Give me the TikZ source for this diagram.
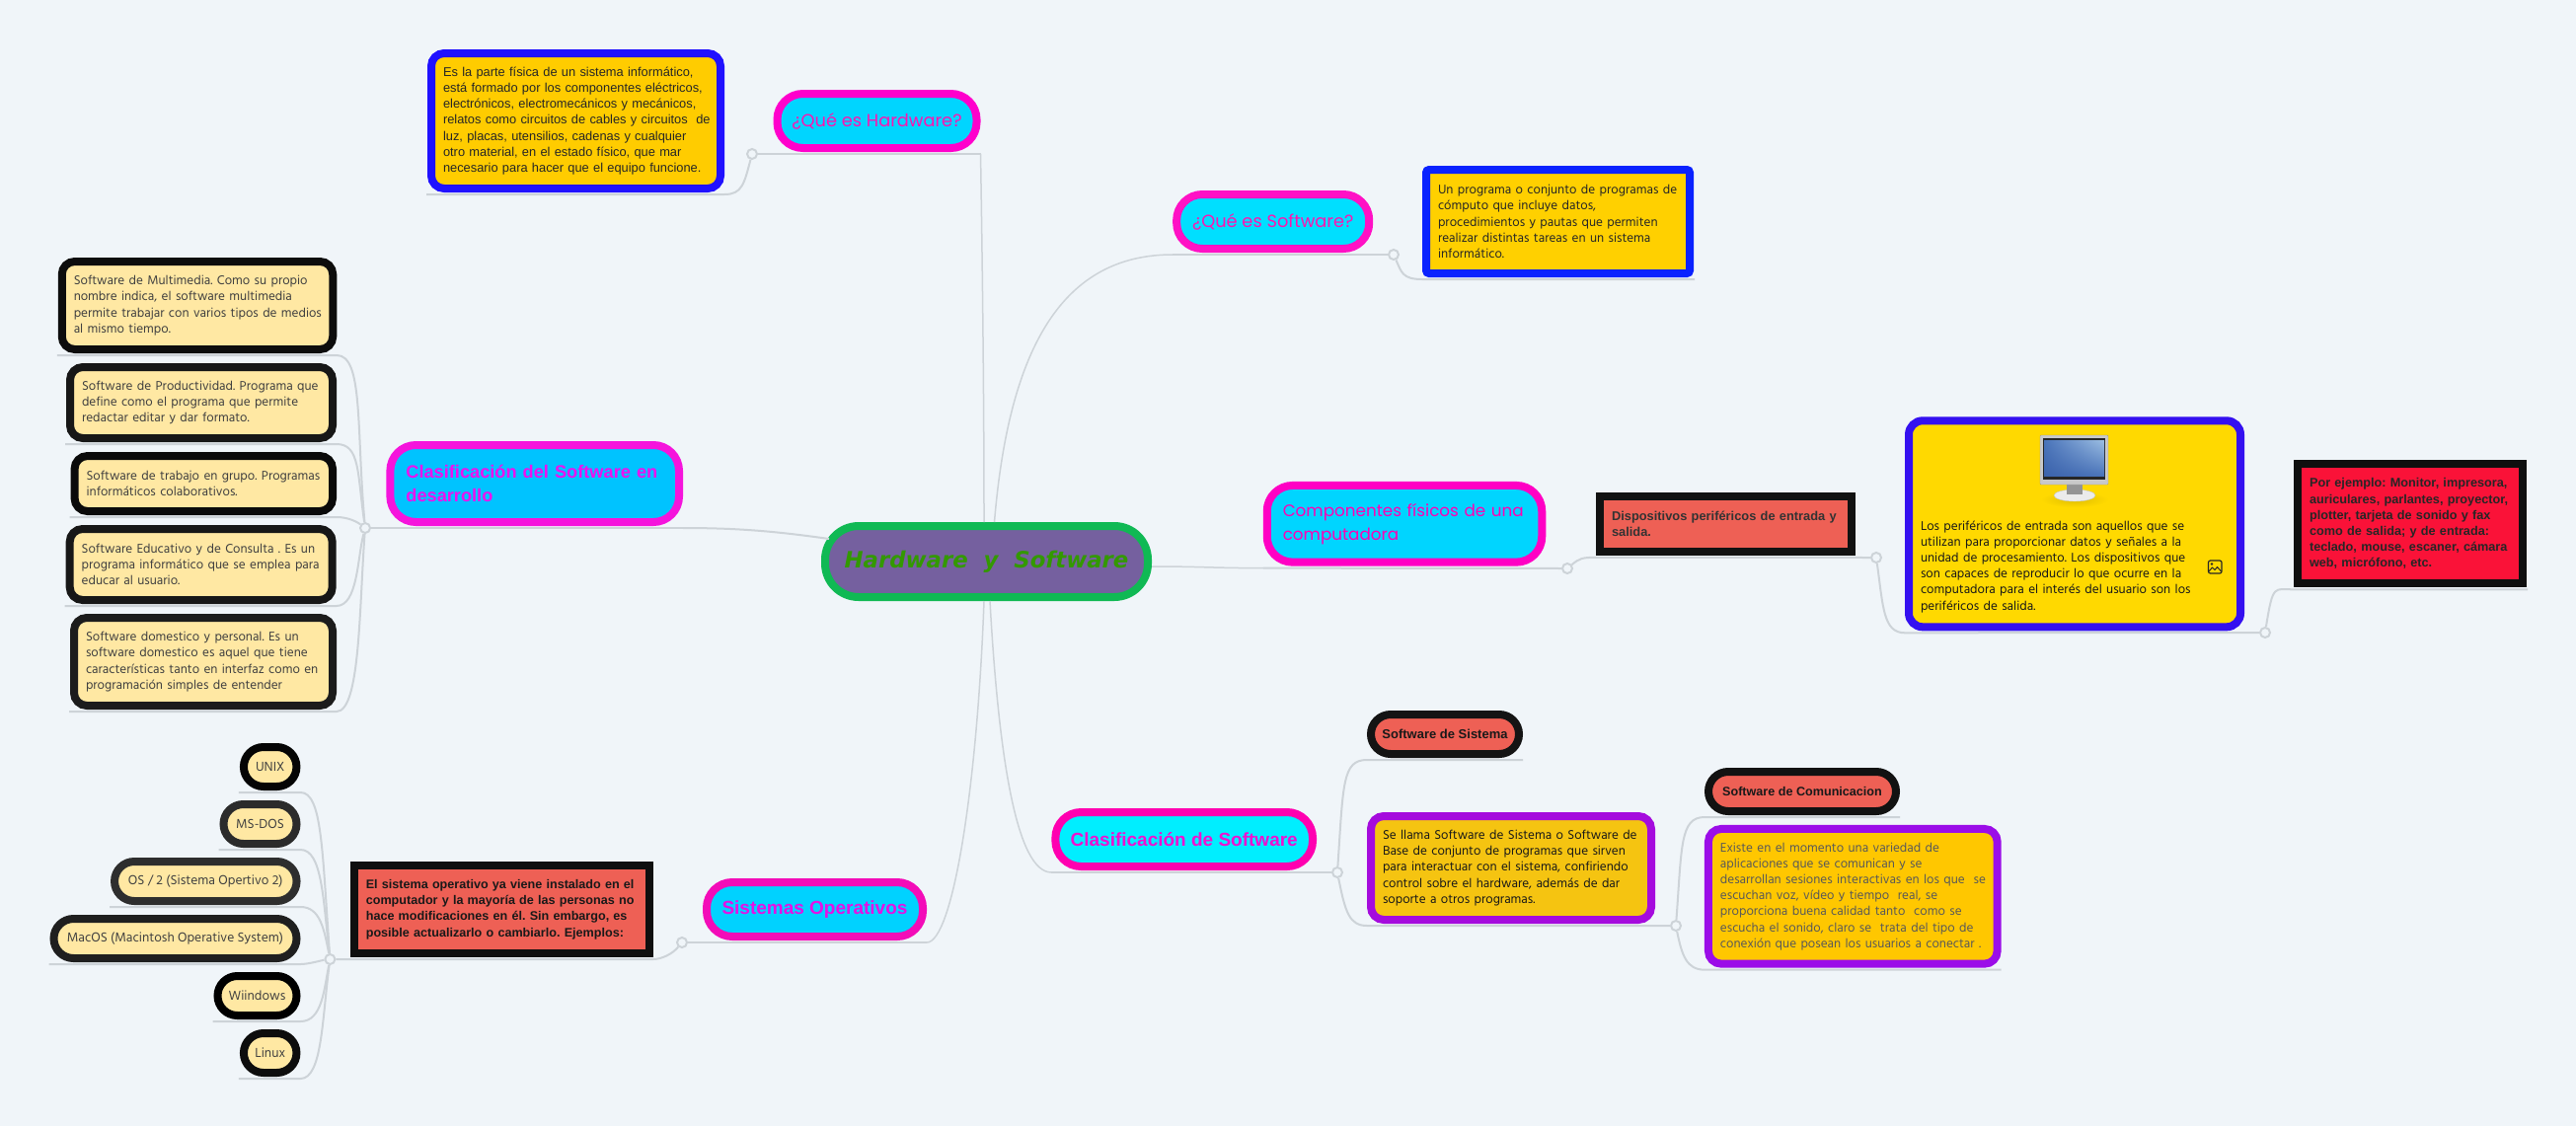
\documentclass[tikz,border=0pt]{standalone}
\usepackage{fontspec}
\usepackage{xcolor}
\usetikzlibrary{shadings}
\setmainfont{Liberation Sans}
\newfontfamily\hindfont{Hind Madurai}
\newfontfamily\roundfont{Poppins}
\newfontfamily\rootfont{DejaVu Sans}
\frenchspacing
\definecolor{pagebg}{HTML}{F0F5F9}
\definecolor{linecol}{HTML}{CDD3D8}
\definecolor{leaffill}{HTML}{FFE8A3}
\definecolor{redfill}{HTML}{EE6055}
\definecolor{rootedge}{HTML}{10B954}
\definecolor{rootfill}{HTML}{75609F}
\definecolor{roottext}{HTML}{339900}
\definecolor{hwedge}{HTML}{FF00CC}
\definecolor{hwfill}{HTML}{00D5FF}
\definecolor{hwtextcol}{HTML}{FF14B0}
\definecolor{hwbluebox}{HTML}{2011FF}
\definecolor{hwgold}{HTML}{FFCC00}
\definecolor{swedge}{HTML}{FF11C5}
\definecolor{swfill}{HTML}{00DFFF}
\definecolor{swbluebox}{HTML}{0A22FF}
\definecolor{swgold}{HTML}{FFD000}
\definecolor{comedge}{HTML}{FF00C4}
\definecolor{comtextcol}{HTML}{FF00B4}
\definecolor{periedge}{HTML}{3410F0}
\definecolor{perigold}{HTML}{FFD900}
\definecolor{crimson}{HTML}{FA1238}
\definecolor{clasedge}{HTML}{FF00B0}
\definecolor{clasfill}{HTML}{00EEFF}
\definecolor{clastextcol}{HTML}{F010D0}
\definecolor{selledge}{HTML}{A50BDD}
\definecolor{sellgold}{HTML}{F5C411}
\definecolor{existedge}{HTML}{9B0DE8}
\definecolor{existgold}{HTML}{FFC700}
\definecolor{sisedge}{HTML}{F30CB8}
\definecolor{sisfill}{HTML}{00D2FF}
\definecolor{sistextcol}{HTML}{E511E5}
\definecolor{desedge}{HTML}{F514DC}
\definecolor{desfill}{HTML}{00C3FF}
\definecolor{destextcol}{HTML}{EE11EE}
\definecolor{monshadow}{HTML}{E0BE00}
\definecolor{monlow}{HTML}{3C63AC}
\definecolor{monmid}{HTML}{4A74BA}
\definecolor{monhigh}{HTML}{9CBEE2}

\begin{document}
\begin{tikzpicture}[x=1pt, y=-1pt, >=stealth,
    rootlink/.style={draw=linecol, line width=1.5pt},
    branchlink/.style={draw=linecol, line width=2pt},
    hubdot/.style={circle, draw=linecol, fill=pagebg, line width=2pt, minimum size=10pt, inner sep=0pt},
    framed/.style={rectangle, line width=8pt, inner ysep=0pt, inner xsep=12pt, align=left},
    bodytext/.style={font=\fontsize{12.85}{16.2}\selectfont},
    hindtext/.style={font=\hindfont\fontsize{13.15}{16.2}\selectfont},
    boldtext/.style={font=\bfseries\fontsize{12.85}{16.2}\selectfont},
    topic/.style={rectangle, line width=8pt, rounded corners=26pt, inner sep=0pt},
    leaf/.style={rectangle, draw=#1, fill=leaffill, text=black!75, line width=8pt, rounded corners=20pt, inner sep=0pt, minimum height=40pt, font=\hindfont\fontsize{13.5}{16.2}\selectfont},
    note/.style={framed, hindtext, draw=#1, fill=leaffill, text=black!75, rounded corners=13pt}]
    \fill[pagebg] (0,0) rectangle (2610,1141);

    % centre
    \node[rectangle, draw=rootedge, fill=rootfill, text=roottext, line width=8pt, rounded corners=34pt, minimum width=327pt, minimum height=72pt, inner sep=0pt, font=\rootfont\bfseries\itshape\fontsize{22.8}{28}\selectfont] (root) at (999.5,569) {\raisebox{-2pt}{Hardware\ \ y\ \ Software}};

    % hardware
    \node[topic, draw=hwedge, fill=hwfill, text=hwtextcol, minimum width=202pt, minimum height=55pt, font=\roundfont\fontsize{17.8}{24}\selectfont] (hwtopic) at (888.5,122.5) {¿Qué es Hardware?};
    \node[framed, bodytext, draw=hwbluebox, fill=hwgold, text=black!85, rounded corners=13pt, node distance=305pt, left of=hwtopic, text width=269pt, minimum height=137pt] (hwtext) {Es la parte física de un sistema informático,\\está formado por los componentes eléctricos,\\electrónicos, electromecánicos y mecánicos,\\\mbox{relatos como circuitos de cables y circuitos\ \ de}\\luz, placas, utensilios, cadenas y cualquier\\otro material, en el estado físico, que mar\\necesario para hacer que el equipo funcione.};

    % software
    \node[topic, draw=swedge, fill=swfill, text=hwtextcol, minimum width=195pt, minimum height=55pt, font=\roundfont\fontsize{17.8}{24}\selectfont] (swtopic) at (1289.7,224.5) {¿Qué es Software?};
    \node[framed, hindtext, draw=swbluebox, fill=swgold, text=black!85, rounded corners=3pt, node distance=288.8pt, right of=swtopic, text width=243pt, minimum height=105pt] (swtext) {Un programa o conjunto de programas de\\cómputo que incluye datos,\\procedimientos y pautas que permiten\\realizar distintas tareas en un sistema\\informático.};

    % componentes
    \node[topic, draw=comedge, fill=hwfill, text=comtextcol, minimum height=77.7pt, text width=246.5pt, inner xsep=16pt, align=left, font=\roundfont\fontsize{16.8}{24}\selectfont] (compon) at (1423,530.8) {Componentes físicos de una\\computadora};
    \node[framed, boldtext, draw=black!93, fill=redfill, text=black!80, node distance=325.5pt, right of=compon, text width=231pt, minimum height=56pt] (dispos) {Dispositivos periféricos de entrada y\\salida.};
    \node[framed, hindtext, draw=periedge, fill=perigold, text=black!90, rounded corners=14pt, node distance=353.5pt, right of=dispos, text width=312pt, minimum height=209pt] (perifer) {\mbox{}\\[80pt]Los periféricos de entrada son aquellos que se\\utilizan para proporcionar datos y señales a la\\unidad de procesamiento. Los dispositivos que\\son capaces de reproducir lo que ocurre en la\\computadora para el interés del usuario son los\\periféricos de salida.};
    \node[framed, boldtext, draw=black!94, fill=crimson, text=black!85, node distance=340pt, right of=perifer, text width=204pt, minimum height=121pt, font=\bfseries\fontsize{12.7}{16.2}\selectfont] (ejemplo) {Por ejemplo: Monitor, impresora,\\auriculares, parlantes, proyector,\\plotter, tarjeta de sonido y fax\\como de salida; y de entrada:\\teclado, mouse, escaner, cámara\\web, micrófono, etc.};

    % monitor picture
    \shade[inner color=monshadow, outer color=perigold] (2102,506) ellipse (34 and 8);
    \fill[black!8, draw=black!22] (2102,502) ellipse (21 and 6);
    \fill[black!42] (2094,490) rectangle (2110,501);
    \fill[black!21, draw=black!40, rounded corners=1pt] (2067,441) rectangle (2136,491);
    \fill[black!85] (2070,444) rectangle (2133,485.5);
    \shade[lower left=monlow, upper left=monmid, lower right=monmid, upper right=monhigh] (2071,446) rectangle (2132,482);
    % picture mark
    \draw[black!85, line width=1.2pt, rounded corners=2pt] (2237.5,568) rectangle (2251,581);
    \fill[black!85] (2241,571.5) circle (1.3);
    \draw[black!85, line width=1pt, line join=round] (2238,579) -- (2241.5,575) -- (2244,577.5) -- (2246.5,574.5) -- (2250.5,579);

    % clasificacion
    \node[topic, draw=clasedge, fill=clasfill, text=clastextcol, minimum width=260.6pt, minimum height=55pt, font=\bfseries\fontsize{19}{24}\selectfont] (clasif) at (1199.7,850.5) {Clasificación de Software};
    \node[rectangle, draw=black!92, fill=redfill, text=black!90, line width=8pt, rounded corners=20pt, inner sep=0pt, minimum width=150pt, minimum height=40pt, font=\bfseries\fontsize{13}{16.2}\selectfont, node distance=264.3pt, right of=clasif, yshift=106.5pt] (softsis) {Software de Sistema};
    \node[framed, hindtext, draw=selledge, fill=sellgold, text=black!90, rounded corners=13pt, node distance=331.3pt, right of=clasif, yshift=-29pt, text width=260pt, minimum height=105pt] (sellama) {Se llama Software de Sistema o Software de\\Base de conjunto de programas que sirven\\para interactuar con el sistema, confiriendo\\control sobre el hardware, además de dar\\soporte a otros programas.};
    \node[rectangle, draw=black!93, fill=redfill, text=black!90, line width=8pt, rounded corners=20pt, inner sep=0pt, minimum width=190pt, minimum height=40pt, font=\bfseries\fontsize{12.6}{16.2}\selectfont, node distance=295pt, right of=sellama, yshift=77.5pt] (softcom) {Software de Comunicacion};
    \node[framed, hindtext, draw=existedge, fill=existgold, text=black!65, rounded corners=13pt, node distance=346.3pt, right of=sellama, yshift=-28.8pt, text width=268.7pt, minimum height=136.7pt] (exist) {Existe en el momento una variedad de\\aplicaciones que se comunican y se\\\mbox{desarrollan sesiones interactivas en los que\ \ se}\\escuchan voz, vídeo y tiempo\ \ real, se\\proporciona buena calidad tanto\ \ como se\\escucha el sonido, claro se\ \ trata del tipo de\\\mbox{conexión que posean los usuarios a conectar .}};

    % sistemas operativos
    \node[topic, draw=sisedge, fill=sisfill, text=sistextcol, minimum width=219pt, minimum height=55pt, font=\bfseries\fontsize{19}{24}\selectfont] (sistop) at (825.5,921.5) {Sistemas Operativos};
    \node[framed, boldtext, draw=black!94, fill=redfill, text=black!90, node distance=317.2pt, left of=sistop, text width=275pt, minimum height=89pt, font=\bfseries\fontsize{12.6}{16.2}\selectfont] (elsis) {\mbox{El sistema operativo ya viene instalado en el}\\\mbox{computador y la mayoría de las personas no}\\hace modificaciones en él. Sin embargo, es\\posible actualizarlo o cambiarlo. Ejemplos:};
    \node[leaf=black!88, minimum width=246pt, node distance=330.8pt, left of=elsis, yshift=-29.5pt] (macos) {MacOS (Macintosh Operative System)};
    \node[leaf=black!82, minimum width=184.5pt, node distance=58pt, above of=macos, xshift=30.8pt] (osdos) {OS / 2 (Sistema Opertivo 2)};
    \node[leaf=black!83, minimum width=74pt, node distance=58pt, above of=osdos, xshift=55.2pt] (msdos) {MS-DOS};
    \node[leaf=black!98, minimum width=53.5pt, node distance=58pt, above of=msdos, xshift=10.2pt] (unix) {UNIX};
    \node[leaf=black, minimum width=80pt, node distance=58pt, below of=macos, xshift=83pt] (wiindows) {Wiindows};
    \node[leaf=black!95, minimum width=53.5pt, node distance=58pt, below of=wiindows, xshift=13.2pt] (linux) {Linux};

    % software en desarrollo
    \node[topic, draw=desedge, fill=desfill, text=destextcol, minimum height=78pt, text width=260.6pt, inner xsep=16pt, align=left, font=\bfseries\fontsize{18.2}{24}\selectfont] (clasdes) at (541.7,490) {Clasificación del Software en\\desarrollo};
    \node[note=black!96, node distance=335.4pt, left of=clasdes, text width=237.4pt, minimum height=56pt] (trabajo) {Software de trabajo en grupo. Programas\\informáticos colaborativos.};
    \node[note=black!91, node distance=82pt, above of=trabajo, xshift=-2.3pt, text width=242pt, minimum height=72pt] (producto) {Software de Productividad. Programa que\\define como el programa que permite\\redactar editar y dar formato.};
    \node[note=black!95, node distance=98.5pt, above of=producto, xshift=-4pt, text width=250.5pt, minimum height=89pt] (multi) {Software de Multimedia. Como su propio\\nombre indica, el software multimedia\\\mbox{permite trabajar con varios tipos de medios}\\al mismo tiempo.};
    \node[note=black!91, node distance=82pt, below of=trabajo, xshift=-2.6pt, text width=242pt, minimum height=72pt] (educa) {Software Educativo y de Consulta . Es un\\programa informático que se emplea para\\educar al usuario.};
    \node[note=black!89, node distance=98.5pt, below of=educa, xshift=2.3pt, text width=238pt, minimum height=89pt] (domes) {Software domestico y personal. Es un\\software domestico es aquel que tiene\\características tanto en interfaz como en\\programación simples de entender};

    % hubs
    \node[hubdot] (hubhw) at (762,156) {};
    \node[hubdot] (hubsw) at (1412,258) {};
    \node[hubdot] (hubcomp) at (1588,576) {};
    \node[hubdot] (hubper) at (1901,565) {};
    \node[hubdot] (hubeje) at (2295,641) {};
    \node[hubdot] (hubcla) at (1355,884) {};
    \node[hubdot] (hubsel) at (1698,938) {};
    \node[hubdot] (hubsis) at (691,955) {};
    \node[hubdot] (hubele) at (334.4,972) {};
    \node[hubdot] (hubdes) at (370,535) {};

    % links from the centre
    \draw[rootlink] ([xshift=-2.5pt]root.north) .. controls +(0,-120) and +(2,120) .. ([yshift=-2pt]hwtopic.south east);
    \draw[rootlink] ([xshift=8pt]root.north) .. controls +(15,-180) and +(-110,0) .. ([yshift=-2pt]swtopic.south west);
    \draw[rootlink] ([yshift=-5pt]root.east) .. controls +(50,0) and +(-50,0) .. ([yshift=-2pt]compon.south west);
    \draw[rootlink] ([xshift=3.5pt]root.south) .. controls +(9,161) and +(-35,0) .. ([yshift=-2pt]clasif.south west);
    \draw[rootlink] ([xshift=-2.5pt]root.south) .. controls +(-7,191) and +(26,0) .. ([yshift=-2pt]sistop.south east);
    \draw[branchlink] ([shift={(8pt,23pt)}]root.west) .. controls +(-50,-7) and +(60,0) .. ([yshift=-2pt]clasdes.south east);

    % hardware links
    \draw[branchlink] ([yshift=-2pt]hwtopic.south east) -- (hubhw);
    \draw[branchlink] (hubhw) .. controls +(-8,30) and +(18,0) .. ([yshift=-2pt]hwtext.south east) -- ([shift={(-1pt,-2pt)}]hwtext.south west);

    % software links
    \draw[branchlink] ([yshift=-2pt]swtopic.south west) -- (hubsw);
    \draw[branchlink] (hubsw) .. controls +(8,18) and +(-20,0) .. ([yshift=-2pt]swtext.south west) -- ([shift={(1pt,-2pt)}]swtext.south east);

    % componentes links
    \draw[branchlink] ([yshift=-2pt]compon.south west) -- (hubcomp);
    \draw[branchlink] (hubcomp) .. controls +(12,-10) and +(-14,0) .. ([yshift=-2pt]dispos.south west) -- (hubper);
    \draw[branchlink] (hubper) .. controls +(7,50) and +(-22,0) .. ([yshift=-2pt]perifer.south west) -- (hubeje);
    \draw[branchlink] (hubeje) .. controls +(8,-50) and +(-20,0) .. ([yshift=-2pt]ejemplo.south west) -- ([shift={(1pt,-2pt)}]ejemplo.south east);

    % clasificacion links
    \draw[branchlink] ([yshift=-2pt]clasif.south west) -- (hubcla);
    \draw[branchlink] (hubcla) .. controls +(6,-90) and +(-25,0) .. ([yshift=-2pt]softsis.south west) -- ([yshift=-2pt]softsis.south east);
    \draw[branchlink] (hubcla) .. controls +(8,40) and +(-18,0) .. ([yshift=-2pt]sellama.south west) -- (hubsel);
    \draw[branchlink] (hubsel) .. controls +(6,-80) and +(-25,0) .. ([yshift=-2pt]softcom.south west) -- ([yshift=-2pt]softcom.south east);
    \draw[branchlink] (hubsel) .. controls +(6,30) and +(-18,0) .. ([yshift=-2pt]exist.south west) -- ([yshift=-2pt]exist.south east);

    % sistemas links
    \draw[branchlink] ([yshift=-2pt]sistop.south east) -- (hubsis);
    \draw[branchlink] (hubsis) .. controls +(-10,12) and +(8,0) .. ([yshift=-2pt]elsis.south east) -- (hubele);
    \draw[branchlink] (hubele) .. controls +(-8,-110) and +(22,0) .. ([yshift=-2pt]unix.south east) -- ([shift={(-1pt,-2pt)}]unix.south west);
    \draw[branchlink] (hubele) .. controls +(-7,-60) and +(22,0) .. ([yshift=-2pt]msdos.south east) -- ([shift={(-1pt,-2pt)}]msdos.south west);
    \draw[branchlink] (hubele) .. controls +(-6,-30) and +(20,0) .. ([yshift=-2pt]osdos.south east) -- ([shift={(-1pt,-2pt)}]osdos.south west);
    \draw[branchlink] (hubele) .. controls +(-8,1) and +(8,0) .. ([yshift=-2pt]macos.south east) -- ([shift={(-1pt,-2pt)}]macos.south west);
    \draw[branchlink] (hubele) .. controls +(-6,30) and +(22,0) .. ([yshift=-2pt]wiindows.south east) -- ([shift={(-1pt,-2pt)}]wiindows.south west);
    \draw[branchlink] (hubele) .. controls +(-8,60) and +(22,0) .. ([yshift=-2pt]linux.south east) -- ([shift={(-1pt,-2pt)}]linux.south west);

    % desarrollo links
    \draw[branchlink] ([yshift=-2pt]clasdes.south east) -- (hubdes);
    \draw[branchlink] (hubdes) .. controls +(-9,-100) and +(27,0) .. ([yshift=-2pt]multi.south east) -- ([shift={(-1pt,-2pt)}]multi.south west);
    \draw[branchlink] (hubdes) .. controls +(-8,-55) and +(24,0) .. ([yshift=-2pt]producto.south east) -- ([shift={(-1pt,-2pt)}]producto.south west);
    \draw[branchlink] (hubdes) .. controls +(-8,-6) and +(12,0) .. ([yshift=-2pt]trabajo.south east) -- ([shift={(-1pt,-2pt)}]trabajo.south west);
    \draw[branchlink] (hubdes) .. controls +(-8,30) and +(22,0) .. ([yshift=-2pt]educa.south east) -- ([shift={(-1pt,-2pt)}]educa.south west);
    \draw[branchlink] (hubdes) .. controls +(-6,80) and +(24,0) .. ([yshift=-2pt]domes.south east) -- ([shift={(-1pt,-2pt)}]domes.south west);
\end{tikzpicture}
\end{document}
